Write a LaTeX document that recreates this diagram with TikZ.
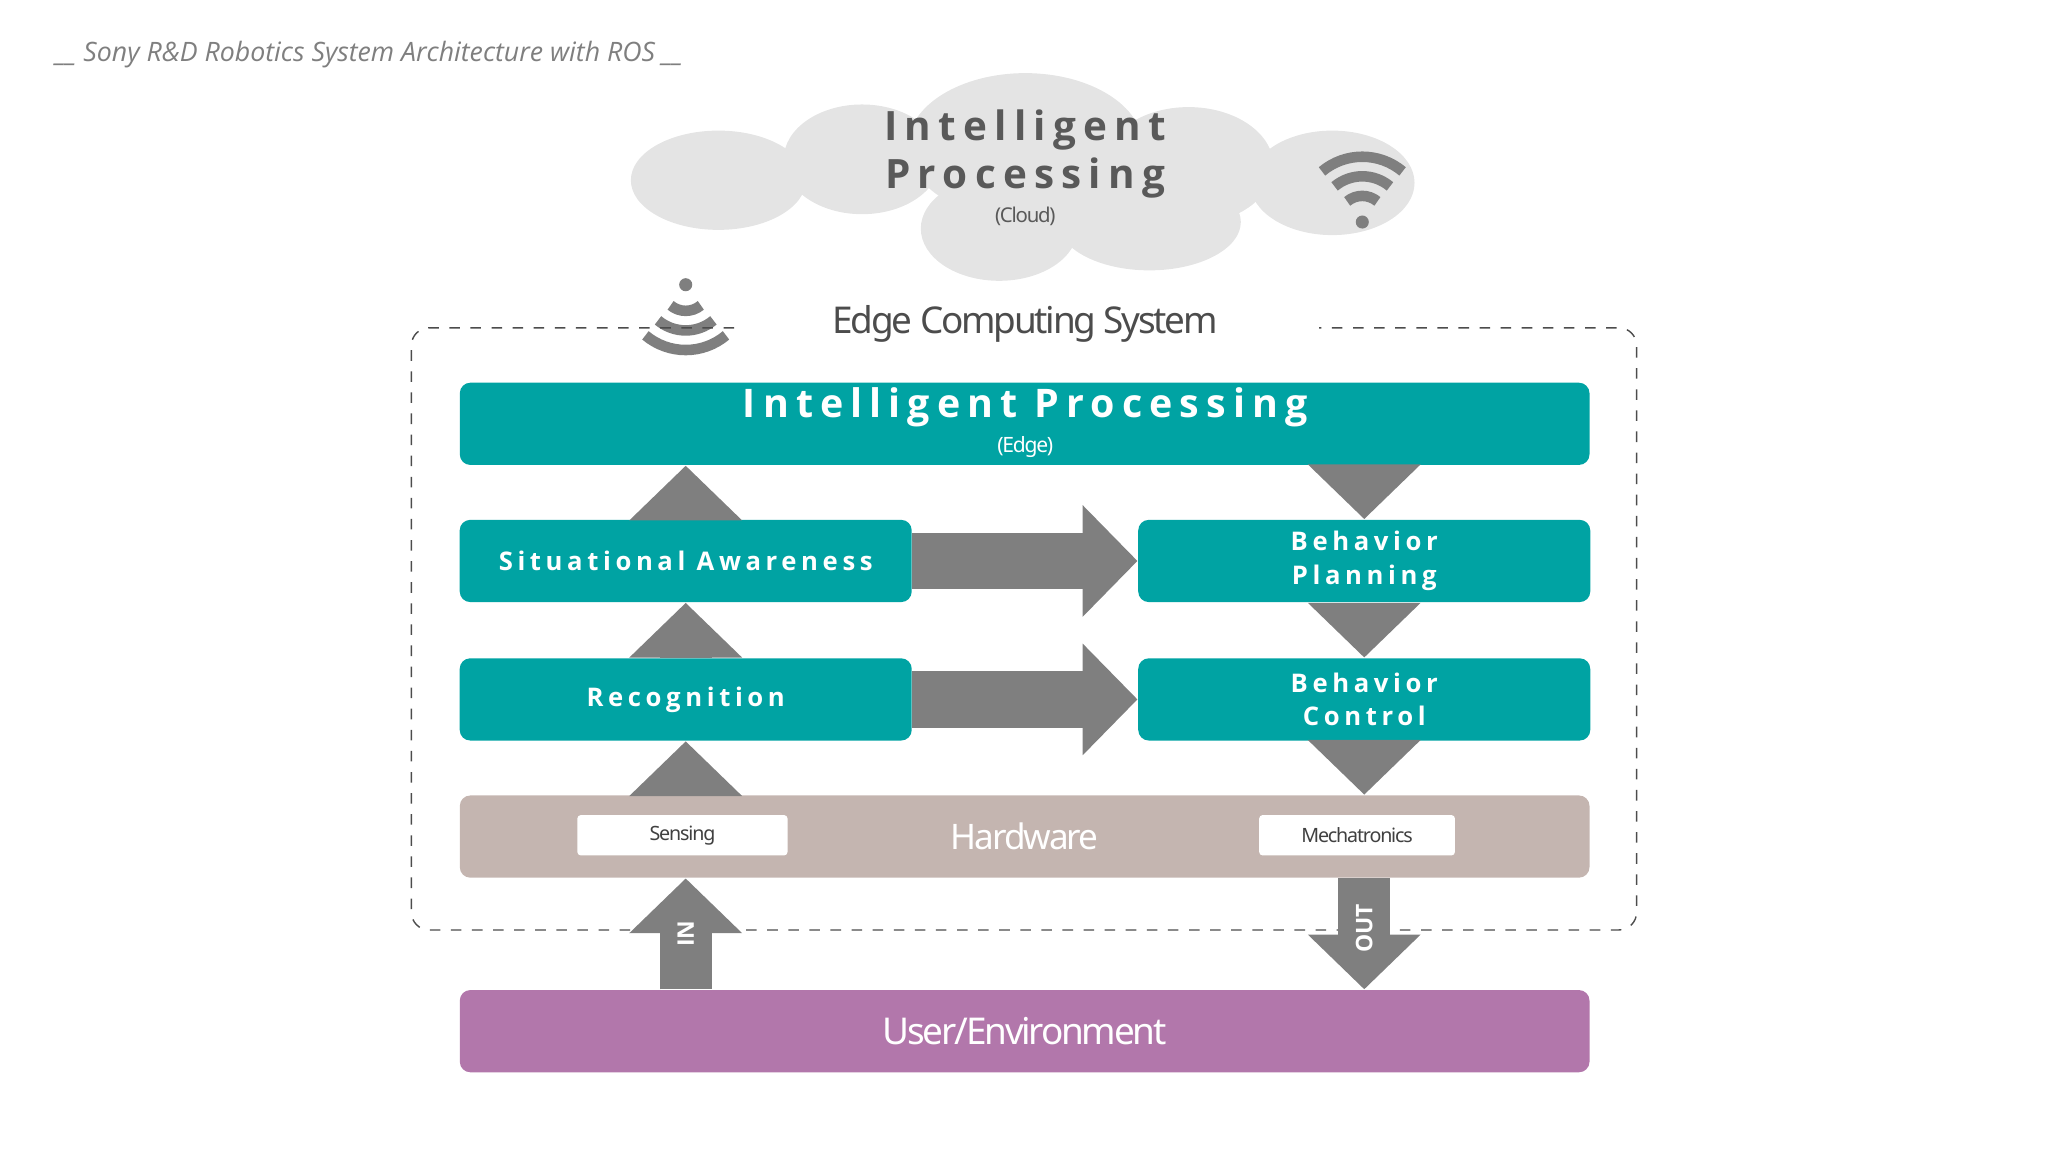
\documentclass[tikz,border=0pt]{standalone}
\usepackage{fontspec}
\setmainfont{Open Sans}
\newfontfamily\spaced{Open Sans}[LetterSpace=18]
\newfontfamily\tight{Noto Sans}[LetterSpace=-6]
\usetikzlibrary{arrows.meta}
\definecolor{teal0}{HTML}{00A3A3}
\definecolor{arrowgray}{HTML}{7F7F7F}
\definecolor{hwbrown}{HTML}{C4B5B0}
\definecolor{userpink}{HTML}{B277AB}
\definecolor{cloudgray}{HTML}{E4E4E4}
\tikzset{
  box/.style={fill=teal0, rounded corners=3pt, text=white, align=center,
    minimum height=23.4pt, inner sep=0pt, font=\spaced\bfseries\fontsize{7.3}{9.5}\selectfont},
  half/.style={box, minimum width=128.6pt},
  wide/.style={box, minimum width=321.4pt},
  tag/.style={fill=white, rounded corners=1pt, minimum height=11.5pt, inner sep=0pt,
    text=black!75, font=\tight\fontsize{5.6}{6}\selectfont},
  fatup/.style={draw=arrowgray, line width=14.9pt,
    -{Triangle[length=15.6pt, width=31.2pt]}},
  fatright/.style={draw=arrowgray, line width=16pt,
    -{Triangle[length=15.6pt, width=30.8pt]}},
  wave/.style={arrowgray, line width=3pt},
}
\begin{document}
\begin{tikzpicture}[x=0.3716pt, y=-0.3716pt]
  \useasboundingbox (0,0) rectangle (1568,882);
  % title
  \node[anchor=west, text=arrowgray, font=\itshape\fontsize{7.6}{9}\selectfont] (title) at (33,42)
    {\_\_ Sony R\&D Robotics System Architecture with ROS \_\_};
  % cloud
  \foreach \cx/\cy/\rx/\ry in {550/138/67/38, 660/122/60/42, 785/112/90/56, 910/127/65/45,
                                1020/140/63/40, 765/175/60/40, 880/170/70/37}
    \fill[cloudgray] (\cx,\cy) ellipse [x radius=\rx, y radius=\ry];
  \node[align=center, text=black!65, font=\spaced\bfseries\fontsize{11.5}{13.5}\selectfont] (cloud) at (785,118)
    {Intelligent\\Processing};
  \node[text=black!65, font=\tight\fontsize{5.8}{7}\selectfont] (cloudsub) at (785,166) {(Cloud)};
  % wireless marks
  \fill[arrowgray] (525,218) circle (5);
  \fill[arrowgray] (1043,170) circle (5);
  \foreach \r in {18,33,48} {
    \draw[wave] (525,220) ++(50:\r) arc[start angle=50, end angle=130, radius=\r];
    \draw[wave] (1043,168) ++(-50:\r) arc[start angle=-50, end angle=-130, radius=\r];
  }
  % edge frame
  \draw[dashed, black!70, thin, rounded corners=5pt] (562,251) -| (315,712) -| (1253,251) -- (1010,251);
  \node[text=black!70, font=\tight\fontsize{10.5}{12}\selectfont] (edge) at (785,248) {Edge Computing System};
  % boxes
  \node[wide, font=\spaced\bfseries\fontsize{11.2}{12}\selectfont] (IPE) at (784.5,324.5) {};
  \node[text=white, font=\spaced\bfseries\fontsize{11.2}{12}\selectfont] (IPEt) at (785,312) {Intelligent Processing};
  \node[text=white, font=\tight\fontsize{6}{7}\selectfont] (IPEs) at (785,342) {(Edge)};
  \node[half] (SA) at (525,429.5) {Situational Awareness};
  \node[half] (Rec) at (525,535.5) {Recognition};
  \node[half] (BP) at (1044.5,429.5) {Behavior\\Planning};
  \node[half] (BC) at (1044.5,535.5) {Behavior\\Control};
  \node[wide, fill=hwbrown, font=\tight\fontsize{10}{12}\selectfont] (HW) at (784.5,640.5) {Hardware};
  \node[tag, minimum width=59.8pt] (sens) at (522.5,639.5) {Sensing};
  \node[tag, minimum width=55.7pt] (mech) at (1039,639.5) {Mechatronics};
  \node[wide, fill=userpink, font=\tight\fontsize{10.5}{12}\selectfont] (UE) at (784.5,789.5) {User/Environment};
  % arrows
  \draw[fatup] (Rec.north) -- (SA.south);
  \draw[fatup] (SA.north) -- (SA.north |- IPE.south);
  \draw[fatup] (Rec.south |- HW.north) -- (Rec.south);
  \draw[fatup] (BP.north |- IPE.south) -- (BP.north);
  \draw[fatup] (BP.south) -- (BC.north);
  \draw[fatup] (BC.south) -- (BC.south |- HW.north);
  \draw[fatup] (Rec.south |- UE.north) -- (Rec.south |- HW.south)
    node[pos=0.5, rotate=90, text=white, font=\bfseries\fontsize{6.5}{7}\selectfont] (in) {IN};
  \draw[fatup] (BC.south |- HW.south) -- (BC.south |- UE.north)
    node[pos=0.45, rotate=90, text=white, font=\bfseries\fontsize{6.5}{7}\selectfont] (out) {OUT};
  \draw[fatright] (SA.east) -- (BP.west);
  \draw[fatright] (Rec.east) -- (BC.west);
\end{tikzpicture}
\end{document}
